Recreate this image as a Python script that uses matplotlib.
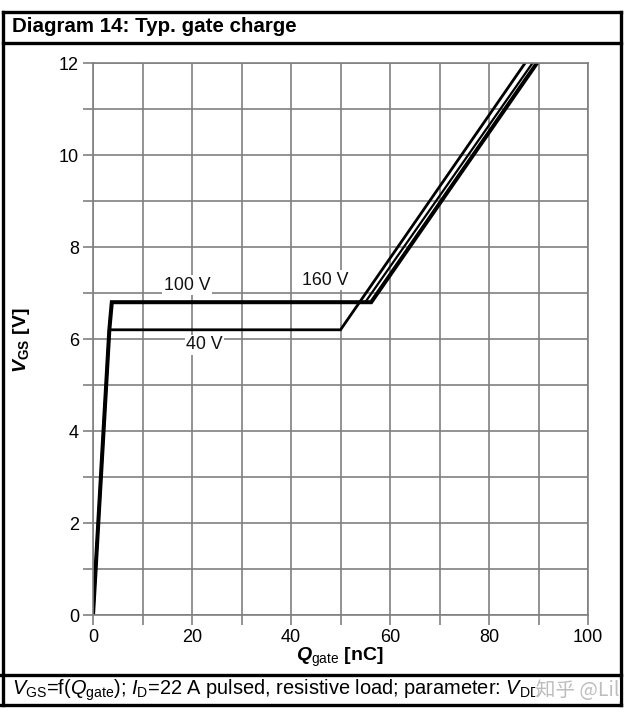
import matplotlib
matplotlib.use('Agg')
from matplotlib import pyplot as plt
from matplotlib.lines import Line2D
import numpy as np

plt.rcParams['font.family'] = ['Liberation Sans', 'DejaVu Sans']
plt.rcParams['mathtext.fontset'] = 'custom'
plt.rcParams['mathtext.rm'] = 'Liberation Sans'
plt.rcParams['mathtext.it'] = 'Liberation Sans:italic'
plt.rcParams['mathtext.bf'] = 'Liberation Sans:bold'
plt.rcParams['mathtext.bfit'] = 'Liberation Sans:italic:bold'

# gate charge curves (Qgate in nC, VGS in V)
q_40 = [0, 3.3, 50.0, 87.3]
v_40 = [0, 6.2, 6.2, 12.0]
q_100 = [0, 3.3, 3.8, 55.0, 88.8]
v_100 = [0, 6.2, 6.8, 6.8, 12.0]
q_160 = [0, 3.3, 3.8, 56.2, 89.7]
v_160 = [0, 6.2, 6.8, 6.8, 12.0]

curve_labels = ['40 V', '100 V', '160 V']
label_pos = [(22.5, 5.87), (19.0, 7.17), (47.0, 7.28)]

x_major = [0, 20, 40, 60, 80, 100]
y_major = [0, 2, 4, 6, 8, 10, 12]

fig = plt.figure(figsize=(6.36, 7.19), dpi=100)
ax = fig.add_axes([93/636, 1-615/719, 495/636, 552/719])

ax.plot(q_40, v_40, color='black', lw=2.0, solid_joinstyle='miter')
ax.plot(q_100, v_100, color='black', lw=1.6, solid_joinstyle='miter')
ax.plot(q_160, v_160, color='black', lw=2.9, solid_joinstyle='miter')

for txt, (x, y) in zip(curve_labels, label_pos):
    ax.text(x, y, txt, fontsize=12.8, ha='center', va='center', color='#111111',
            bbox=dict(facecolor='white', edgecolor='none', pad=1.0))

ax.set_xlim(0, 100)
ax.set_ylim(0, 12)
ax.set_xticks(x_major)
ax.set_yticks(y_major)
ax.set_xticks(np.arange(0, 101, 10), minor=True)
ax.set_yticks(np.arange(0, 13, 1), minor=True)
ax.tick_params(which='both', direction='out', length=7, width=1.2, color='#808080',
               labelsize=13, pad=3)
ax.grid(which='both', color='#808080', lw=1.2)
ax.set_axisbelow(True)
for s in ax.spines.values():
    s.set_color('#808080')
    s.set_linewidth(1.2)

fig.text(340/636, 1-657/719, r'$\mathbfit{Q}_{\mathrm{gate}}$ [nC]', fontsize=14,
         fontweight='bold', ha='center', va='center')
fig.text(22/636, 1-340/719, r'$\mathbfit{V}_{\mathbf{GS}}$ [V]', fontsize=14,
         fontweight='bold', ha='center', va='center', rotation=90)

# frame around the diagram
lw_box = 2.4
def hline(y, x0=3, x1=621):
    fig.add_artist(Line2D([x0/636, x1/636], [1-y/719, 1-y/719], color='black', lw=lw_box))
def vline(x, y0=12, y1=705):
    fig.add_artist(Line2D([x/636, x/636], [1-y0/719, 1-y1/719], color='black', lw=lw_box))
hline(12)
hline(43)
hline(675, x0=0)
hline(705, x0=0)
vline(3)
vline(621)

fig.text(12/636, 1-27/719, 'Diagram 14: Typ. gate charge', fontsize=14.8, fontweight='bold',
         ha='left', va='center')
fig.text(12/636, 1-690/719,
         r'$\mathit{V}_{\mathrm{GS}}$=f($\mathit{Q}_{\mathrm{gate}}$); $\mathit{I}_{\mathrm{D}}$=22 A pulsed, resistive load; parameter: $\mathit{V}_{\mathrm{DD}}$',
         fontsize=14.4, ha='left', va='center')
fig.text(619/636, 1-690/719, '知乎 @Lil', fontsize=14, ha='right', va='center', color='#bdbdbd',
         family=['Noto Sans CJK SC', 'DejaVu Sans'],
         bbox=dict(facecolor='white', edgecolor='none', alpha=0.75, pad=0.5))

fig.savefig('out.png', dpi=100)
